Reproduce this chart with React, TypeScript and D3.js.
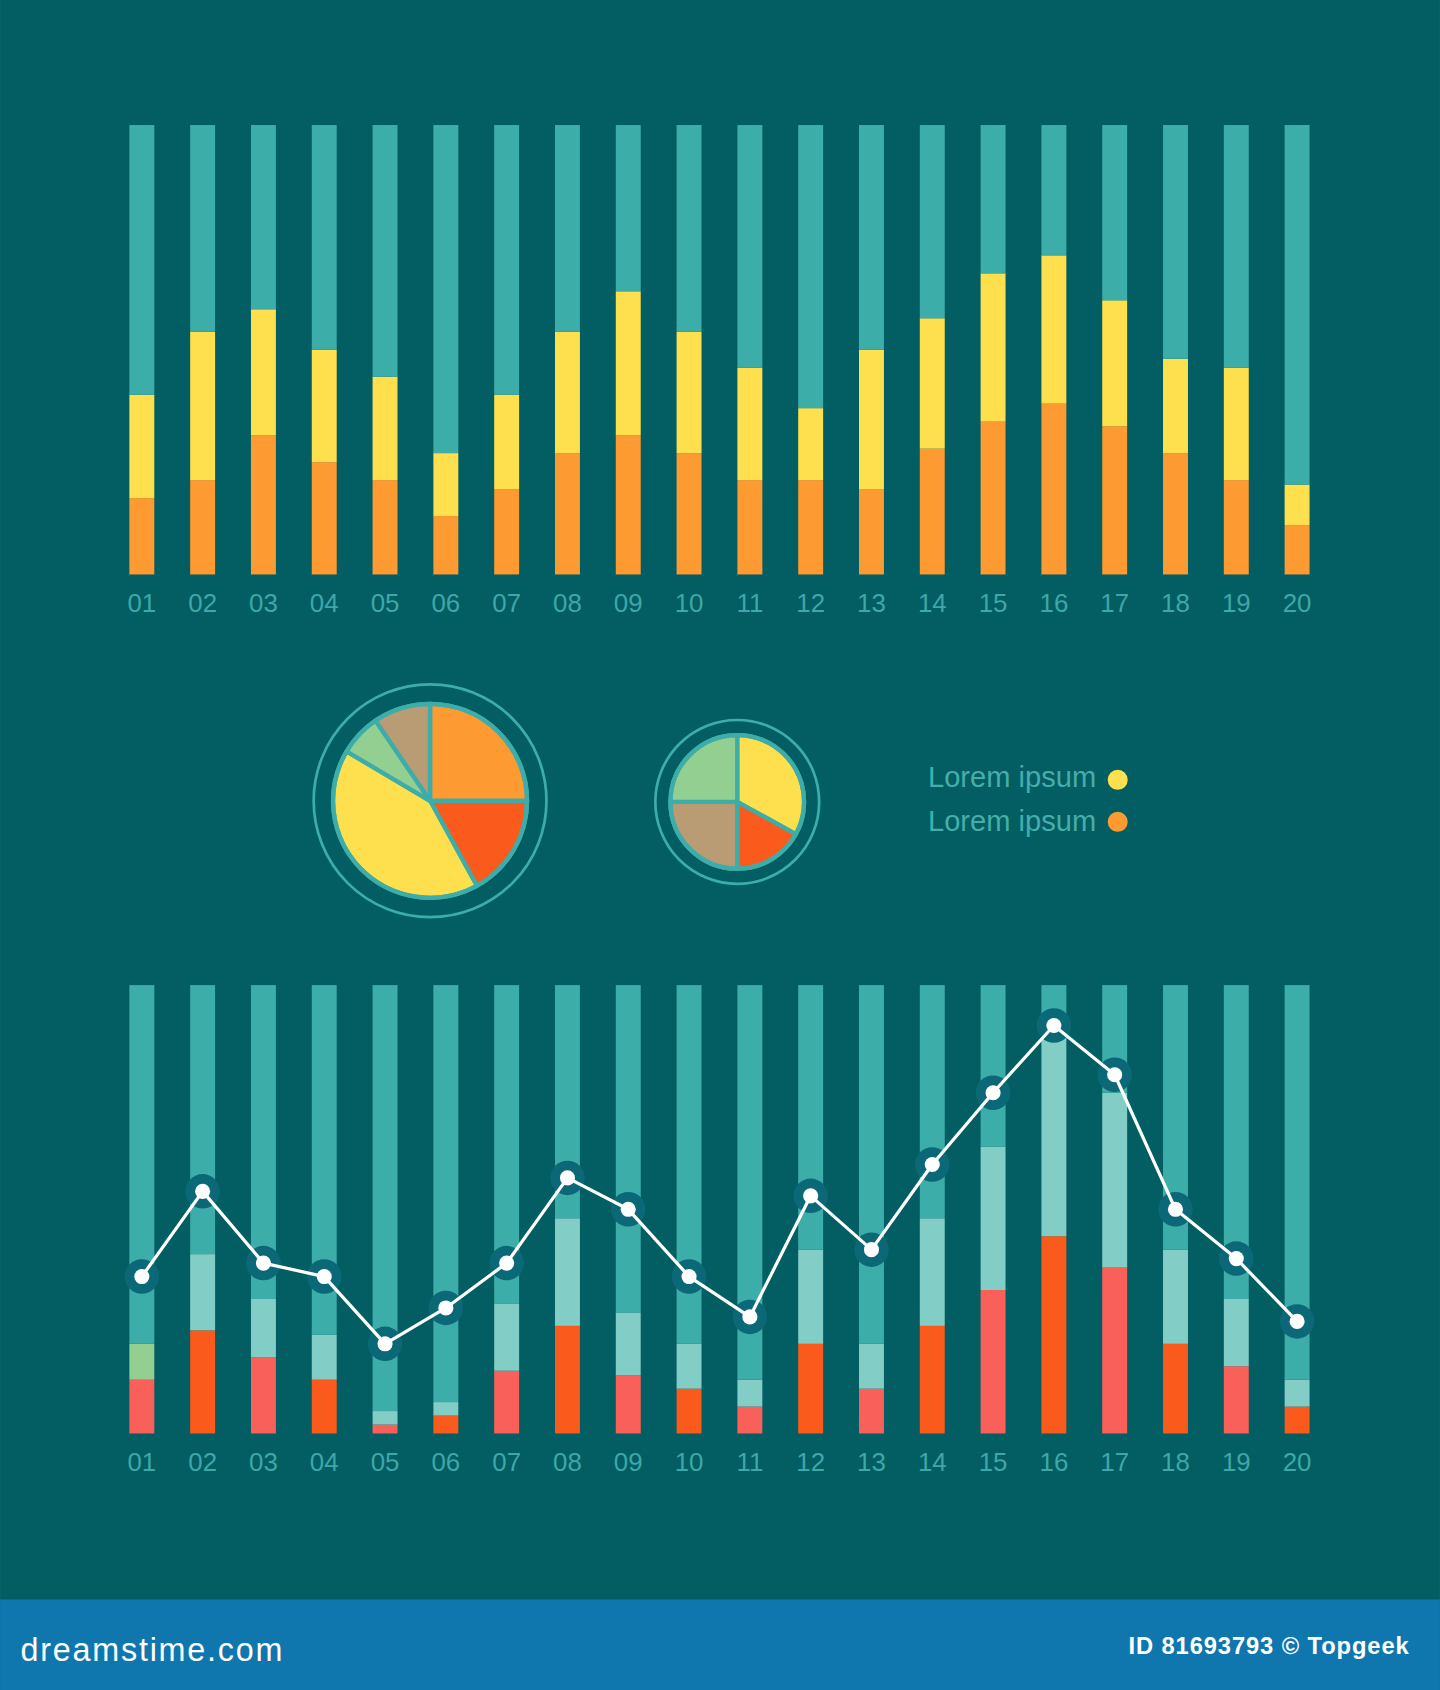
import { useEffect, useRef } from 'react'
import * as d3 from 'd3'

// categories shared by both bar charts
const labels = ['01', '02', '03', '04', '05', '06', '07', '08', '09', '10', '11', '12', '13', '14', '15', '16', '17', '18', '19', '20']

// top chart, % of full bar
const topOrange = [17, 21, 31, 25, 21, 13, 19, 27, 31, 27, 21, 21, 19, 28, 34, 38, 33, 27, 21, 11]
const topYellow = [23, 33, 28, 25, 23, 14, 21, 27, 32, 27, 25, 16, 31, 29, 33, 33, 28, 21, 25, 9]

// bottom chart, % of full bar
const bottomRed = [12, 23, 17, 12, 2, 4, 14, 24, 13, 10, 6, 20, 10, 24, 32, 44, 37, 20, 15, 6]
const bottomLight = [8, 17, 13, 10, 3, 3, 15, 24, 14, 10, 6, 21, 10, 24, 32, 45, 39, 21, 15, 6]
const lineValues = [35, 54, 38, 35, 20, 28, 38, 57, 50, 35, 26, 53, 41, 60, 76, 91, 80, 50, 39, 25]

// pies (clockwise from 12 o'clock)
const bigPieValues = [25, 17, 41.5, 7, 9.5]
const smallPieValues = [33, 17, 25, 25]

const legendLabels = ['Lorem ipsum', 'Lorem ipsum']

const BG = '#025e62'
const TEAL = '#3dadaa'
const YELLOW = '#fee04e'
const ORANGE = '#fd9a31'
const RED = '#fa5a1c'
const CORAL = '#fa605a'
const LIGHT = '#82cec6'
const GREEN = '#93cf90'
const BROWN = '#b99b74'
const LABEL = '#3ea7a7'
const FONT = 'Liberation Sans, Arial, sans-serif'

export default function App() {
  const ref = useRef<SVGSVGElement | null>(null)

  useEffect(() => {
    document.body.style.margin = '0'
    const svg = d3.select(ref.current)
    svg.selectAll('*').remove()

    svg.append('rect').attr('width', 1336).attr('height', 1568).attr('fill', BG)

    const x = d3.scaleBand().domain(labels).range([120, 1215]).paddingInner(0.59).paddingOuter(0)
    const bw = x.bandwidth()

    // ---- top stacked bars
    const yTop = d3.scaleLinear().domain([0, 100]).range([533, 116])
    const topRows = labels.map((l, i) => ({ label: l, orange: topOrange[i], yellow: topYellow[i], rest: 100 - topOrange[i] - topYellow[i] }))
    const topStack = d3.stack<any>().keys(['orange', 'yellow', 'rest'])(topRows)
    const topColors: Record<string, string> = { orange: ORANGE, yellow: YELLOW, rest: TEAL }

    const top = svg.append('g')
    top.selectAll('g.layer')
      .data(topStack)
      .enter()
      .append('g')
      .attr('fill', (d) => topColors[d.key])
      .selectAll('rect')
      .data((d) => d)
      .enter()
      .append('rect')
      .attr('x', (d: any) => x(d.data.label)!)
      .attr('y', (d) => yTop(d[1]))
      .attr('width', bw)
      .attr('height', (d) => yTop(d[0]) - yTop(d[1]))

    top.selectAll('text')
      .data(labels)
      .enter()
      .append('text')
      .attr('x', (d) => x(d)! + bw / 2)
      .attr('y', 568)
      .attr('text-anchor', 'middle')
      .attr('font-family', FONT)
      .attr('font-size', 24)
      .attr('fill', LABEL)
      .text((d) => d)

    // ---- pies
    const pie = d3.pie<number>().sort(null).value((d) => d)
    const drawPie = (cx: number, cy: number, r: number, ring: number, values: number[], colors: string[]) => {
      const g = svg.append('g').attr('transform', `translate(${cx},${cy})`)
      g.append('circle').attr('r', ring).attr('fill', 'none').attr('stroke', TEAL).attr('stroke-width', 2.5)
      const arc = d3.arc<d3.PieArcDatum<number>>().innerRadius(0).outerRadius(r)
      g.selectAll('path')
        .data(pie(values))
        .enter()
        .append('path')
        .attr('d', arc)
        .attr('fill', (d, i) => colors[i])
        .attr('stroke', TEAL)
        .attr('stroke-width', 4)
        .attr('stroke-linejoin', 'round')
      g.append('circle').attr('r', r).attr('fill', 'none').attr('stroke', TEAL).attr('stroke-width', 4)
    }
    drawPie(399, 743, 90, 108, bigPieValues, [ORANGE, RED, YELLOW, GREEN, BROWN])
    drawPie(684, 744, 62, 76, smallPieValues, [YELLOW, RED, BROWN, GREEN])

    // ---- legend
    const legendColors = [YELLOW, ORANGE]
    const legend = svg.append('g')
    legendLabels.forEach((t, i) => {
      legend.append('text')
        .attr('x', 1017)
        .attr('y', 730 + i * 41)
        .attr('text-anchor', 'end')
        .attr('font-family', FONT)
        .attr('font-size', 27)
        .attr('fill', '#45aeab')
        .text(t)
      legend.append('circle')
        .attr('cx', 1037)
        .attr('cy', 723.5 + i * 39)
        .attr('r', 9.3)
        .attr('fill', legendColors[i])
    })

    // ---- bottom bars + line
    const yBot = d3.scaleLinear().domain([0, 100]).range([1330, 914])
    const botRows = labels.map((l, i) => ({ label: l, red: bottomRed[i], light: bottomLight[i], rest: 100 - bottomRed[i] - bottomLight[i] }))
    const botStack = d3.stack<any>().keys(['red', 'light', 'rest'])(botRows)
    const botColor = (key: string, i: number) => {
      if (key === 'rest') return TEAL
      if (key === 'light') return i === 0 ? GREEN : LIGHT
      return i % 2 === 0 ? CORAL : RED
    }

    const bottom = svg.append('g')
    botStack.forEach((layer) => {
      bottom.append('g')
        .selectAll('rect')
        .data(layer)
        .enter()
        .append('rect')
        .attr('x', (d: any) => x(d.data.label)!)
        .attr('y', (d) => yBot(d[1]))
        .attr('width', bw)
        .attr('height', (d) => yBot(d[0]) - yBot(d[1]))
        .attr('fill', (d, i) => botColor(layer.key, i))
    })

    bottom.selectAll('text')
      .data(labels)
      .enter()
      .append('text')
      .attr('x', (d) => x(d)! + bw / 2)
      .attr('y', 1365)
      .attr('text-anchor', 'middle')
      .attr('font-family', FONT)
      .attr('font-size', 24)
      .attr('fill', LABEL)
      .text((d) => d)

    const px = (i: number) => x(labels[i])! + bw / 2
    bottom.selectAll('circle.halo')
      .data(lineValues)
      .enter()
      .append('circle')
      .attr('class', 'halo')
      .attr('cx', (d, i) => px(i))
      .attr('cy', (d) => yBot(d))
      .attr('r', 16)
      .attr('fill', '#0b6977')

    const line = d3.line<number>().x((d, i) => px(i)).y((d) => yBot(d))
    bottom.append('path')
      .attr('d', line(lineValues)!)
      .attr('fill', 'none')
      .attr('stroke', '#ffffff')
      .attr('stroke-width', 3)
      .attr('stroke-linejoin', 'round')

    bottom.selectAll('circle.dot')
      .data(lineValues)
      .enter()
      .append('circle')
      .attr('class', 'dot')
      .attr('cx', (d, i) => px(i))
      .attr('cy', (d) => yBot(d))
      .attr('r', 7)
      .attr('fill', '#ffffff')

    // ---- footer band
    svg.append('rect').attr('y', 1484).attr('width', 1336).attr('height', 84).attr('fill', '#0f76ae')
    svg.append('text')
      .attr('x', 19)
      .attr('y', 1541)
      .attr('font-family', FONT)
      .attr('font-size', 30)
      .attr('fill', '#ffffff')
      .attr('textLength', 243)
      .text('dreamstime.com')
    svg.append('text')
      .attr('x', 1047)
      .attr('y', 1535)
      .attr('font-family', FONT)
      .attr('font-weight', 'bold')
      .attr('font-size', 22)
      .attr('fill', '#ffffff')
      .attr('textLength', 260)
      .text('ID 81693793 © Topgeek')
  }, [])

  return <svg ref={ref} width={1440} height={1690} viewBox="0 0 1336 1568" style={{ display: 'block' }} />
}
